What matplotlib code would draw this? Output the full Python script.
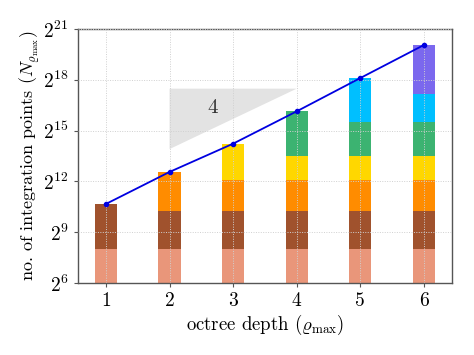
import numpy as np
import matplotlib
matplotlib.use("Agg")
import matplotlib.pyplot as plt

plt.rcParams['font.family'] = 'serif'
plt.rcParams['font.serif'] = ['cmr10']
plt.rcParams['mathtext.fontset'] = 'cm'
plt.rcParams['axes.formatter.use_mathtext'] = True

# data
depths = [1, 2, 3, 4, 5, 6]
# number of points contributed by each level (stacked), per octree depth
level_points = [
    [256, 1373],
    [256, 962, 4820],
    [256, 962, 3111, 14891],
    [256, 962, 3111, 7095, 60776],
    [256, 962, 3111, 7095, 35226, 235350],
    [256, 962, 3111, 7095, 35226, 99350, 944000],
]
level_colors = ['#E9967A', '#A0522D', '#FF8C00', '#FFD700', '#3CB371', '#00BFFF', '#7B68EE']
ytick_exps = [6, 9, 12, 15, 18, 21]
# slope triangle (log2 of corners)
tri_x = [2, 2, 4]
tri_yexp = [17.48, 13.91, 17.48]

fig = plt.figure(figsize=(4.74, 3.55), dpi=100)
ax = fig.add_axes([0.164, 0.203, 0.789, 0.715])

totals = []
for d, pts in zip(depths, level_points):
    bottom = 0
    for i, p in enumerate(pts):
        ax.bar(d, p, bottom=bottom, width=0.35, color=level_colors[i], zorder=2)
        bottom += p
    totals.append(bottom)

ax.fill(tri_x, [2.0 ** e for e in tri_yexp], color='#e3e3e3', zorder=1, lw=0)
ax.text(2.67, 2.0 ** 16.34, '4', fontsize=15, ha='center', va='center', color='#333333', zorder=3)

ax.plot(depths, totals, '-o', color='#0000e0', lw=1.3, ms=3, zorder=4)

ax.set_yscale('log', base=2)
ax.set_ylim(2.0 ** 6, 2.0 ** 21)
ax.set_xlim(0.555, 6.44)
ax.set_yticks([2.0 ** e for e in ytick_exps])
ax.set_yticklabels([r'$2^{%d}$' % e for e in ytick_exps])
ax.yaxis.set_minor_locator(matplotlib.ticker.NullLocator())
ax.set_xticks(depths)
ax.set_xticklabels([str(d) for d in depths])
ax.tick_params(labelsize=14, length=3, color='#555555')

ax.grid(True, linestyle=(0, (1, 1.5)), color='#d0d0d0', lw=0.7, zorder=5)
ax.set_axisbelow(False)
for s in ax.spines.values():
    s.set_color('#555555')
    s.set_linewidth(1.0)

ax.set_xlabel(r'octree depth ($\varrho_{\max}$)', fontsize=13.5, labelpad=2)
ax.set_ylabel(r'no. of integration points ($N_{\varrho_{\max}}$)', fontsize=13, labelpad=1)

fig.savefig('out.png', dpi=100)
